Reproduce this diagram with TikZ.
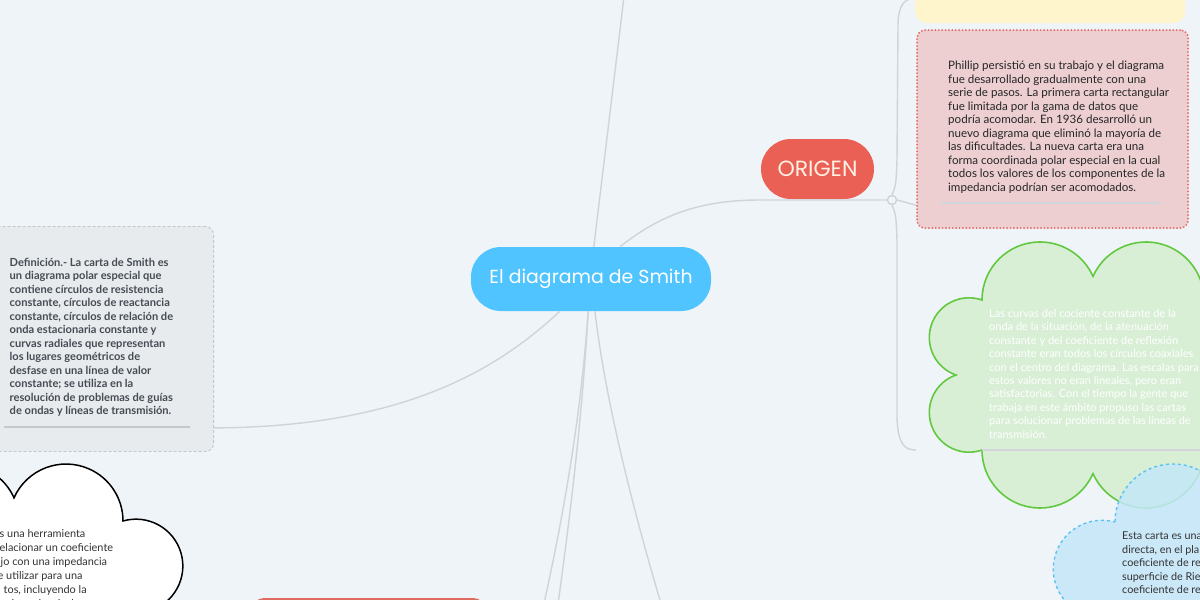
\documentclass[tikz,border=0pt]{standalone}
\usepackage{fontspec}
\setmainfont{Lato}
\newfontfamily\headfont{Poppins}

\definecolor{paper}{HTML}{EFF4F8}
\definecolor{branchgray}{HTML}{CFD4D9}
\definecolor{sepgray}{HTML}{D2D6DA}
\definecolor{smithblue}{HTML}{50C4FF}
\definecolor{origenred}{HTML}{EB6054}
\definecolor{origentext}{HTML}{FFF1E4}
\definecolor{notepink}{HTML}{EDCFD2}
\definecolor{pinkdots}{HTML}{E8716C}
\definecolor{noteyellow}{HTML}{FFF5CC}
\definecolor{notegray}{HTML}{E7EBEE}
\definecolor{grayline}{HTML}{C3C8CC}
\definecolor{defink}{HTML}{464C54}
\definecolor{cloudgreen}{HTML}{D8EFD6}
\definecolor{greenline}{HTML}{62C93F}
\definecolor{cloudblue}{HTML}{C4E7F8}
\definecolor{blueline}{HTML}{5CC2F1}
\definecolor{bottomred}{HTML}{DE6A60}

% cloud outline round a body box: style, left, top, right, bottom, side offset
\newcommand{\smithcloud}[6]{%
  \pgfmathsetmacro\cA{0.2613*(#4-#2)}%
  \pgfmathsetmacro\cD{(#4-#2)/2-\cA}%
  \pgfmathsetmacro\cPhi{acos(\cD/\cA)}%
  \pgfmathsetmacro\cQ{(#5-#3)/4}%
  \pgfmathsetmacro\cPsi{atan(\cQ/#6)}%
  \pgfmathsetmacro\cRho{sqrt(#6*#6+\cQ*\cQ)}%
  \draw[#1] (#2,#3) arc[start angle=180,end angle=360-\cPhi,radius=\cA]
    arc[start angle=180+\cPhi,end angle=360,radius=\cA]
    arc[start angle=180+\cPsi,end angle=360+\cPsi,radius=\cRho]
    arc[start angle=-\cPsi,end angle=180-\cPsi,radius=\cRho]
    arc[start angle=0,end angle=180-\cPhi,radius=\cA]
    arc[start angle=\cPhi,end angle=180,radius=\cA]
    arc[start angle=\cPsi,end angle=180+\cPsi,radius=\cRho]
    arc[start angle=180-\cPsi,end angle=360-\cPsi,radius=\cRho] -- cycle;}

\begin{document}
\begin{tikzpicture}[x=1pt,y=-1pt,
  branch/.style={draw=branchgray,line width=1.4pt},
  topic/.style={rounded corners=30pt,inner sep=0pt,font=\headfont\fontsize{18.9}{22}\selectfont},
  note/.style={anchor=north west,inner sep=0pt,align=left,font=\fontsize{10.8}{13.5}\selectfont},
  sepline/.style={draw=sepgray,line width=1.3pt}]
\useasboundingbox (0,0) rectangle (1200,600);
\fill[paper] (0,0) rectangle (1200,600);

% boxes behind the branches
\node[fill=noteyellow,rounded corners=12pt,minimum width=270,minimum height=63,anchor=north west] (ybox) at (915,-40) {};
\node[fill=notepink,draw=pinkdots,line width=2.2pt,line cap=round,dash pattern=on 0pt off 3.4pt,rounded corners=8pt,minimum width=271,minimum height=198,anchor=north west] (origenbox) at (916,29) {};
\node[fill=notegray,draw=grayline,dash pattern=on 3pt off 2pt,line width=0.9pt,rounded corners=8pt,minimum width=240,minimum height=225,anchor=north east] (defbox) at (214,226) {};
\node[fill=bottomred,rounded corners=10pt,minimum width=231,minimum height=50,anchor=north west] (lowtopic) at (253,598) {};

% topics
\node[topic,fill=smithblue,text=white,minimum width=240,minimum height=64] (smith) at (591,279) {El diagrama de Smith};
\node[topic,fill=origenred,text=origentext,minimum width=113,minimum height=60,font=\headfont\fontsize{22}{24}\selectfont] (origen) at (817.5,169) {ORIGEN};
\node[circle,draw=branchgray,fill=paper,line width=1.2pt,minimum size=9pt,inner sep=0pt] (jn) at (892,200) {};

\coordinate (up-end) at (626,-20);
\coordinate (low-a) at (538,630);
\coordinate (low-b) at (553,640);
\coordinate (low-c) at (672,640);
\coordinate (curvas-in) at (916,450);

% branches
\draw[branch] (smith.85) -- (up-end);
\draw[branch] (smith.48) .. controls (660,215) and (700,200) .. (760,200) -- (jn.west);
\draw[branch] (jn.east) -- ([yshift=24pt]origenbox.south west);
\draw[branch] (jn.north) .. controls (896,185) .. (897,160) -- (898,25) .. controls (898,5) and (905,-2) .. ([yshift=25pt]ybox.south west);
\draw[branch] (jn.south) .. controls (896,215) .. (897,240) -- (897,418) .. controls (898,445) and (905,450) .. (curvas-in);
\draw[branch] (smith.-134) .. controls (495,372) and (400,427) .. ([yshift=24pt]defbox.south east);
\draw[branch] (smith.-95) .. controls (582,400) and (568,500) .. (low-a);
\draw[branch] (smith.-95) .. controls (582,420) and (570,520) .. (low-b);
\draw[branch] (smith.-83) .. controls (605,400) and (635,520) .. (low-c);
\node[circle,draw=branchgray,fill=paper,line width=1.2pt,minimum size=9pt,inner sep=0pt] at (jn) {};

% clouds
\smithcloud{fill=white,draw=black,line width=1.5pt}{-95}{521}{123}{701}{13}
\smithcloud{fill=cloudgreen,draw=greenline,line width=1.6pt}{982}{300}{1204}{450}{13}
\draw[sepline] (982,450) -- (1204,450);
\smithcloud{fill=cloudblue,fill opacity=0.85,draw=blueline,dashed,line width=1.4pt}{1115}{522}{1337}{710}{13}

% texts
\draw[sepline] (940,203) -- (1162,203);
\draw[draw=grayline,line width=1.1pt] (4,427) -- (190,427);
\node[note,text=black!85,font=\fontsize{11.6}{13.5}\selectfont] (origennote) at (948,61.2) {Phillip persistió en su trabajo y el diagrama\\
fue desarrollado gradualmente con una\\
serie de pasos. La primera carta rectangular\\
fue limitada por la gama de datos que\\
podría acomodar. En 1936 desarrolló un\\
nuevo diagrama que eliminó la mayoría de\\
las dificultades. La nueva carta era una\\
forma coordinada polar especial en la cual\\
todos los valores de los componentes de la\\
impedancia podrían ser acomodados.};
\node[note,text=defink,font=\bfseries\fontsize{11.1}{13.5}\selectfont] (defnote) at (9.5,258) {Definición.- La carta de Smith es\\
un diagrama polar especial que\\
contiene círculos de resistencia\\
constante, círculos de reactancia\\
constante, círculos de relación de\\
onda estacionaria constante y\\
curvas radiales que representan\\
los lugares geométricos de\\
desfase en una línea de valor\\
constante; se utiliza en la\\
resolución de problemas de guías\\
de ondas y líneas de transmisión.};
\node[note,text=white,font=\fontsize{11}{13.44}\selectfont] (curvas) at (989,309) {Las curvas del cociente constante de la\\
onda de la situación, de la atenuación\\
constante y del coeficiente de reflexión\\
constante eran todos los círculos coaxiales\\
con el centro del diagrama. Las escalas para\\
estos valores no eran lineales, pero eran\\
satisfactorias. Con el tiempo la gente que\\
trabaja en este ámbito propuso las cartas\\
para solucionar problemas de las líneas de\\
transmisión.};
\node[note,text=black!80] (carta) at (1122,532) {Esta carta es una\\
directa, en el pla\\
coeficiente de re\\
superficie de Rie\\
coeficiente de re};
\node[note,text=black!80,font=\fontsize{10.9}{14}\selectfont] (herramienta) at (-0.5,529) {s una herramienta\\
elacionar un coeficiente\\
\hspace*{1pt}jo con una impedancia\\
\hspace*{-2pt}e utilizar para una\\
\hspace*{4pt}tos, incluyendo la\\
\hspace*{12pt}impedancia, la};
\end{tikzpicture}
\end{document}
